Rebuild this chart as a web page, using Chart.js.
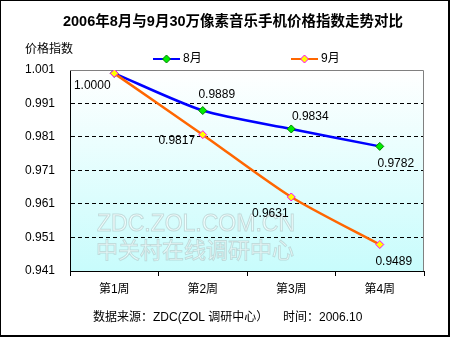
<!DOCTYPE html>
<html>
<head>
<meta charset="utf-8">
<script src="https://cdn.jsdelivr.net/npm/chart.js@4"></script>
<style>
  body { margin: 0; background: #fff; }
  #box { width: 450px; height: 337px; }
</style>
</head>
<body>
<div id="box"><canvas id="priceChart" width="450" height="337"></canvas></div>
<script>
//chart data
const weeks = ["第1周", "第2周", "第3周", "第4周"];
const aug = [1.0000, 0.9889, 0.9834, 0.9782];
const sep = [1.0000, 0.9817, 0.9631, 0.9489];
const yTicks = [0.941, 0.951, 0.961, 0.971, 0.981, 0.991, 1.001];
//texts
const titleText = "2006年8月与9月30万像素音乐手机价格指数走势对比";
const yTitle = "价格指数";
const srcText = "数据来源：ZDC(ZOL 调研中心）";
const timeText = "时间：2006.10";

const numFont = "12px 'Liberation Sans', Arial, 'Noto Sans CJK SC', sans-serif";
const cjkFont = "12px 'Liberation Sans', 'Noto Sans CJK SC', sans-serif";

//label offsets from each point (dx, dy)
const labelPos = [
  [[-22, 12], [14, -16], [19, -12], [16, 17]],
  [[0, 0], [-26, 6], [-21, 17], [14, 17]]
];

//background, frame and texts
const decor = {
  id: "decor",
  beforeDraw(c) {
    const g = c.ctx, a = c.chartArea;
    g.save();
    g.fillStyle = "#fff";
    g.fillRect(0, 0, c.width, c.height);
    const grad = g.createLinearGradient(0, a.top, 0, a.bottom);
    grad.addColorStop(0, "#ffffff");
    grad.addColorStop(1, "#c8fcfc");
    g.fillStyle = grad;
    g.fillRect(a.left, a.top, a.right - a.left, a.bottom - a.top);
    //watermark
    g.font = "23px 'Liberation Sans', Arial, sans-serif";
    g.textAlign = "center";
    g.textBaseline = "middle";
    g.lineWidth = 1;
    g.strokeStyle = "rgba(150,170,170,0.4)";
    g.fillStyle = "rgba(255,255,255,0.6)";
    g.fillText("ZDC.ZOL.COM.CN", 196, 225);
    g.strokeText("ZDC.ZOL.COM.CN", 196, 225);
    g.font = "22px 'Noto Sans CJK SC', sans-serif";
    g.fillText("中关村在线调研中心", 195, 250);
    g.strokeText("中关村在线调研中心", 195, 250);
    g.restore();
  },
  beforeDatasetsDraw(c) {
    const g = c.ctx, a = c.chartArea;
    g.save();
    g.strokeStyle = "#808080";
    g.lineWidth = 1;
    g.beginPath();
    g.moveTo(a.left, a.top + 0.5);
    g.lineTo(a.right - 0.5, a.top + 0.5);
    g.lineTo(a.right - 0.5, a.bottom);
    g.stroke();
    g.restore();
  },
  afterDraw(c) {
    const g = c.ctx;
    g.save();
    g.fillStyle = "#000";
    g.textBaseline = "middle";
    //title
    g.font = "bold 14.5px 'Liberation Sans', Arial, 'Noto Sans CJK SC', sans-serif";
    g.textAlign = "center";
    g.fillText(titleText, 233, 22);
    //axis title
    g.font = cjkFont;
    g.textAlign = "left";
    g.fillText(yTitle, 25, 50);
    //footer
    g.fillText(srcText, 93, 318);
    g.fillText(timeText, 283, 318);
    //legend
    const items = [
      { x: 153, text: "8月", ds: c.data.datasets[0] },
      { x: 291, text: "9月", ds: c.data.datasets[1] }
    ];
    items.forEach(it => {
      g.strokeStyle = it.ds.borderColor;
      g.lineWidth = 2;
      g.beginPath();
      g.moveTo(it.x, 59);
      g.lineTo(it.x + 27, 59);
      g.stroke();
      diamond(g, it.x + 13.5, 59, it.ds.pointBackgroundColor, it.ds.pointBorderColor);
      g.fillStyle = "#000";
      g.fillText(it.text, it.x + 30, 59);
    });
    //data labels
    g.font = numFont;
    g.textAlign = "center";
    c.data.datasets.forEach((ds, i) => {
      const meta = c.getDatasetMeta(i);
      meta.data.forEach((p, j) => {
        if (i == 1 && j == 0) return;//shared start
        const off = labelPos[i][j];
        g.fillText(ds.data[j].toFixed(4), p.x + off[0], p.y + off[1]);
      });
    });
    //outer frame
    g.strokeStyle = "#000";
    g.lineWidth = 2;
    g.strokeRect(0, 0, 449, 336);
    g.restore();
  }
};

function diamond(g, x, y, fill, stroke) {
  g.beginPath();
  g.moveTo(x, y - 4);
  g.lineTo(x + 4, y);
  g.lineTo(x, y + 4);
  g.lineTo(x - 4, y);
  g.closePath();
  g.fillStyle = fill;
  g.fill();
  g.strokeStyle = stroke;
  g.lineWidth = 1;
  g.stroke();
}

const ctx = document.getElementById("priceChart").getContext("2d");
const chart = new Chart(ctx, {
  type: "line",
  data: {
    labels: weeks,
    datasets: [{
      label: "8月",
      data: aug,
      order: 1,//draw under 9月
      borderColor: "#0000ff",
      borderWidth: 2.5,
      pointStyle: "rectRot",
      pointRadius: 4,
      pointBackgroundColor: "#00ee00",
      pointBorderColor: "#008000",
      pointBorderWidth: 1,
      tension: 0.25
    }, {
      label: "9月",
      data: sep,
      order: 0,
      borderColor: "#ff6600",
      borderWidth: 2.5,
      pointStyle: "rectRot",
      pointRadius: 4,
      pointBackgroundColor: "#ffff00",
      pointBorderColor: "#ff00ff",
      pointBorderWidth: 1,
      tension: 0.25
    }]
  },
  options: {
    responsive: false,
    animation: false,
    layout: { padding: { top: 70, right: 26, left: 0, bottom: 0 } },
    plugins: {
      legend: { display: false },
      title: { display: false },
      tooltip: { enabled: false }
    },
    scales: {
      x: {
        offset: true,
        afterFit: s => { s.height = 66; },
        grid: { offset: true, drawOnChartArea: false, drawTicks: true, tickLength: 5, color: "#000" },
        border: { display: true, color: "#000", width: 1 },
        ticks: { color: "#000", font: { size: 12, family: "'Liberation Sans', 'Noto Sans CJK SC', sans-serif" }, padding: 6, maxRotation: 0 }
      },
      y: {
        min: 0.941,
        max: 1.001,
        afterFit: s => { s.width = 70; },
        afterBuildTicks: s => { s.ticks = yTicks.map(v => ({ value: v })); },
        grid: {
          drawTicks: false,
          color: t => (t.tick && (t.tick.value > 1 || t.tick.value < 0.945)) ? "rgba(0,0,0,0)" : "#000"
        },
        border: { display: true, color: "#000", width: 1, dash: [4, 3] },
        ticks: {
          color: "#000",
          padding: 15,
          font: { size: 12, family: "'Liberation Sans', Arial, sans-serif" },
          callback: v => Number(v).toFixed(3)
        }
      }
    }
  },
  plugins: [decor]
});
</script>
</body>
</html>
